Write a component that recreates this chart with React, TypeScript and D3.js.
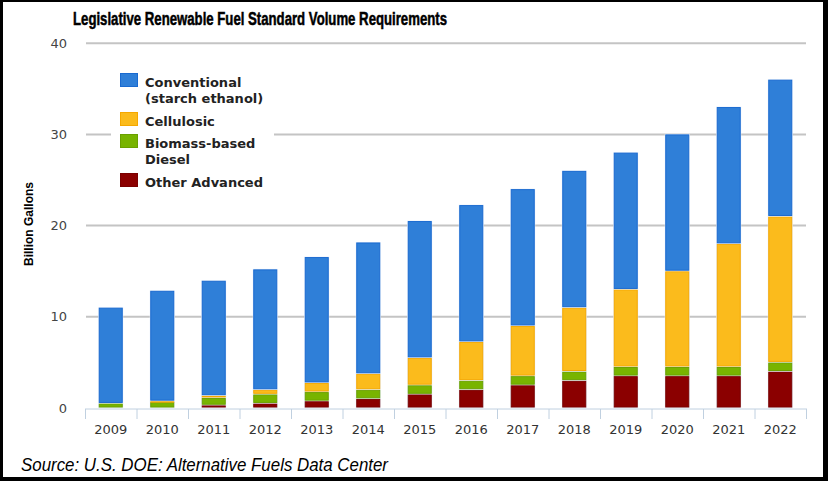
import React from "react";
import * as d3 from "d3";

const years = ["2009","2010","2011","2012","2013","2014","2015","2016","2017","2018","2019","2020","2021","2022"];
const otherAdvanced = [0, 0, 0.3, 0.5, 0.75, 1.0, 1.5, 2.0, 2.5, 3.0, 3.5, 3.5, 3.5, 4.0];
const biomassDiesel = [0.5, 0.65, 0.8, 1.0, 1.0, 1.0, 1.0, 1.0, 1.0, 1.0, 1.0, 1.0, 1.0, 1.0];
const cellulosic = [0, 0.1, 0.25, 0.5, 1.0, 1.75, 3.0, 4.25, 5.5, 7.0, 8.5, 10.5, 13.5, 16.0];
const conventional = [10.5, 12.1, 12.6, 13.2, 13.8, 14.4, 15, 15, 15, 15, 15, 15, 15, 15];
const yTicks = [0, 10, 20, 30, 40];

const seriesKeys = ["other", "biomass", "cellulosic", "conventional"];
const seriesValues: Record<string, number[]> = {
  other: otherAdvanced,
  biomass: biomassDiesel,
  cellulosic: cellulosic,
  conventional: conventional,
};
const seriesFill: Record<string, string> = {
  conventional: "#2f7fd8",
  cellulosic: "#fbbb1c",
  biomass: "#78b400",
  other: "#8b0000",
};
const seriesStroke: Record<string, string> = {
  conventional: "#1a6ad0",
  cellulosic: "#f5a800",
  biomass: "#6aa000",
  other: "#7a0000",
};
const legendItems = [
  { key: "conventional", lines: ["Conventional", "(starch ethanol)"] },
  { key: "cellulosic", lines: ["Cellulosic"] },
  { key: "biomass", lines: ["Biomass-based", "Diesel"] },
  { key: "other", lines: ["Other Advanced"] },
];

const W = 828, H = 481;
const X0 = 85, X1 = 806, Y0 = 408, Y1 = 43.2;

export default function App() {
  const rows = years.map((y, i) => {
    const r: any = { year: y };
    seriesKeys.forEach((k) => (r[k] = seriesValues[k][i]));
    return r;
  });
  const stacked = d3.stack<any>().keys(seriesKeys)(rows);
  const x = d3.scaleBand<string>().domain(years).range([X0, X1]).padding(0);
  const y = d3.scaleLinear().domain([0, 40]).range([Y0, Y1]);
  const bw = 24;
  const fontTick = "'DejaVu Sans', Verdana, sans-serif";
  const swatchTops = [73, 112, 134, 173];

  return (
    <svg width={W} height={H} style={{ position: "absolute", left: 0, top: 0, display: "block" }}>
      <rect x={0} y={0} width={W} height={H} fill="#000" />
      <rect x={3} y={2} width={820} height={475} fill="#fff" />
      <text x={260} y={24.5} textAnchor="middle" fontFamily="'Liberation Sans', Arial, sans-serif"
        fontWeight="bold" fontSize={17.5} fill="#000" stroke="#000" strokeWidth={0.5}
        textLength={374} lengthAdjust="spacingAndGlyphs">
        Legislative Renewable Fuel Standard Volume Requirements
      </text>
      {yTicks.filter((t) => t > 0).map((t) => (
        <line key={t} x1={X0 + 1} x2={X1} y1={y(t)} y2={y(t)} stroke="#c4c4c4" strokeWidth={2} />
      ))}
      {yTicks.map((t) => (
        <text key={t} x={67} y={y(t)} dy="0.36em" textAnchor="end" fontFamily={fontTick} fontSize={13} fill="#444">
          {t}
        </text>
      ))}
      <text transform={`translate(33,224) rotate(-90)`} textAnchor="middle" fontFamily="'Liberation Sans', Arial, sans-serif"
        fontWeight="bold" fontSize={12} fill="#000">
        Billion Gallons
      </text>
      {stacked.map((s) => (
        <g key={s.key}>
          {s.map((d, i) => {
            const v = d[1] - d[0];
            if (v <= 0) return null;
            const cx = (x(years[i]) as number) + x.bandwidth() / 2;
            const top = y(d[1]);
            const bot = y(d[0]);
            const h = bot - top;
            return (
              <g key={i}>
                <rect x={cx - bw / 2 - 0.5} y={top - 0.5} width={bw + 1} height={h + 0.5} fill="#e8f0fa" />
                <rect x={cx - bw / 2 + 0.5} y={top + 0.5} width={bw - 1} height={Math.max(h - 1.5, 0.5)}
                  fill={seriesFill[s.key]} stroke={seriesStroke[s.key]} strokeWidth={1} />
              </g>
            );
          })}
        </g>
      ))}
      <line x1={X0} x2={X1 + 1} y1={Y0 + 1} y2={Y0 + 1} stroke="#c0d0e0" strokeWidth={1} />
      {years.concat(["end"]).map((yr, i) => {
        const px = i < years.length ? (x(yr) as number) : X1;
        return <line key={"t" + i} x1={px + 0.5} x2={px + 0.5} y1={Y0 + 1} y2={Y0 + 11} stroke="#c0d0e0" strokeWidth={1} />;
      })}
      {years.map((yr) => (
        <text key={yr} x={(x(yr) as number) + x.bandwidth() / 2} y={434} textAnchor="middle" fontFamily={fontTick}
          fontSize={13} fill="#333">
          {yr}
        </text>
      ))}
      <rect x={111} y={60} width={163} height={135} fill="#fff" />
      {legendItems.map((it, i) => (
        <g key={it.key}>
          <rect x={120.5} y={swatchTops[i] + 0.5} width={17} height={13} fill={seriesFill[it.key]} stroke={seriesStroke[it.key]} strokeWidth={1} />
          {it.lines.map((ln, j) => (
            <text key={j} x={145} y={swatchTops[i] + 13.5 + j * 16} fontFamily={fontTick} fontWeight="bold" fontSize={13} fill="#222">
              {ln}
            </text>
          ))}
        </g>
      ))}
      <text x={21} y={471} fontFamily="'Liberation Sans', Arial, sans-serif" fontStyle="italic" fontSize={18} fill="#000"
        textLength={367} lengthAdjust="spacingAndGlyphs">
        Source: U.S. DOE: Alternative Fuels Data Center
      </text>
    </svg>
  );
}
